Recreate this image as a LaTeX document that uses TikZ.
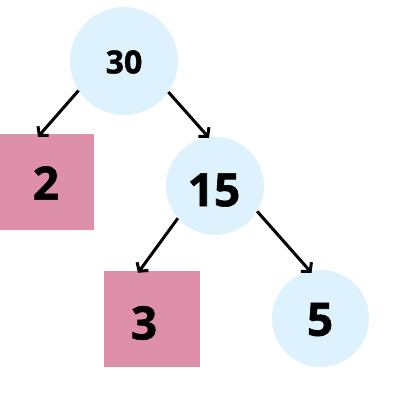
\documentclass[tikz,border=0pt]{standalone}
\usepackage{fontspec}
\setmainfont{Open Sans}[BoldFeatures={FakeBold=1.2}]
\usetikzlibrary{arrows.meta,calc}
\definecolor{cblue}{HTML}{DDF2FD}
\definecolor{cpink}{HTML}{DE8FA9}
\tikzset{
  circ/.style={circle,fill=cblue,inner sep=0pt,minimum size=#1},
  sq/.style={rectangle,fill=cpink,inner sep=0pt,minimum width=96pt,minimum height=96pt},
  lbl/.style={inner sep=0pt,font=\bfseries\fontsize{46}{50}\selectfont},
  arr/.style={line width=3pt,-{Straight Barb[length=6pt,width=14pt,line width=3pt]}}
}
\begin{document}
\begin{tikzpicture}[x=1pt,y=1pt]
\useasboundingbox (0,0) rectangle (404,401);
\node[circ=108pt] (c30) at (124,340) {};
\node[lbl,font=\bfseries\fontsize{32}{36}\selectfont] (t30) at (124,339) {30};
\node[sq,minimum width=94pt] (s2) at (47,219) {};
\node[lbl] (t2) at (46,218) {2};
\node[circ=98pt] (c15) at (215,215) {};
\node[lbl] (t15) at (214,211) {15};
\node[sq] (s3) at (152,82) {};
\node[lbl] (t3) at (144,78) {3};
\node[circ=97pt] (c5) at (320.5,82.5) {};
\node[lbl] (t5) at (320,81.5) {5};
\draw[arr] (c30.213) -- ($(s2.north)+(-9,-3)$);
\draw[arr] (c30.325) -- ($(c15.north)+(-6,-1)$);
\draw[arr] (c15.221) -- ($(s3.north)+(-14,-2)$);
\draw[arr] (c15.329) -- ($(c5.north)+(-9,-3)$);
\end{tikzpicture}
\end{document}
